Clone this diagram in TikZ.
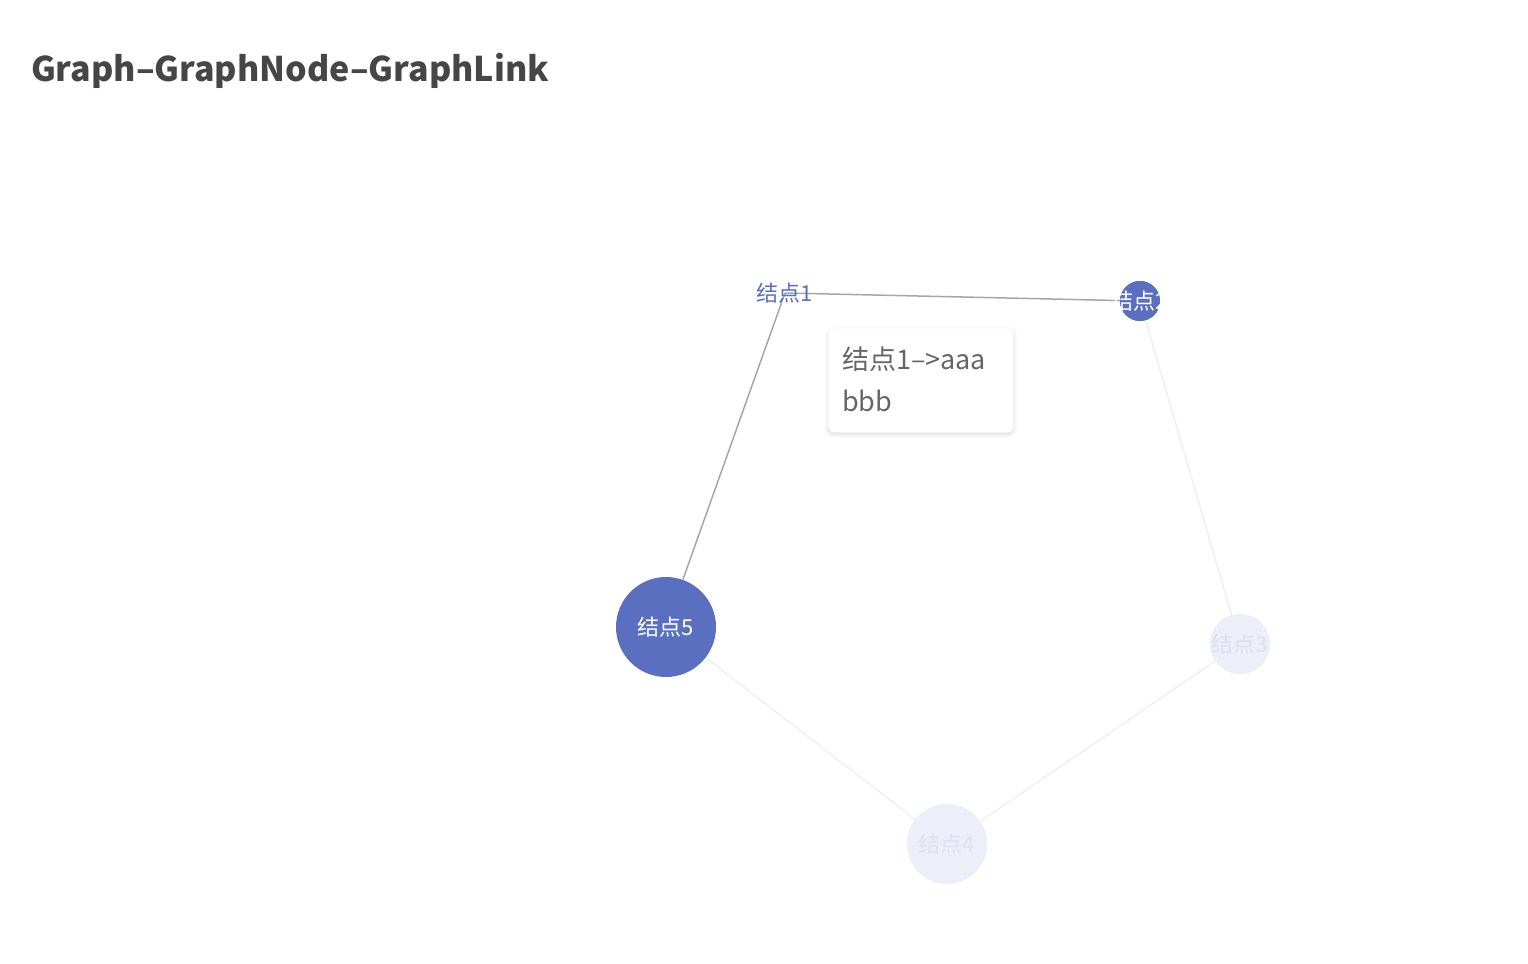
\documentclass[tikz,border=0pt]{standalone}
\usepackage{fontspec}
\setmainfont{Noto Sans CJK SC}
\usetikzlibrary{shadows.blur}
\definecolor{nblue}{HTML}{5A6FC0}
\definecolor{nfade}{HTML}{ECEEF8}
\definecolor{lfade}{HTML}{DDE0F0}
\definecolor{titlec}{HTML}{464646}
\tikzset{
  strong/.style={draw=black!35,line width=0.75pt},
  faint/.style={draw=black!6,line width=0.75pt},
  gnode/.style={circle,inner sep=0pt,minimum size=#1},
  lbl/.style={font=\fontsize{11}{12}\selectfont}
}
\begin{document}
\begin{tikzpicture}[x=0.5pt,y=-0.5pt]
\useasboundingbox (0,0) rectangle (1528,964);
\node[anchor=west,text=titlec,font=\fontsize{17}{20}\selectfont\bfseries] (title) at (24,71) {Graph–GraphNode–GraphLink};
\coordinate (n1) at (785,293);
\node[gnode=20pt,fill=nblue] (n2) at (1140,301) {};
\node[gnode=30pt,fill=nfade] (n3) at (1240,644) {};
\node[gnode=40pt,fill=nfade] (n4) at (947,844) {};
\node[gnode=50pt,fill=nblue] (n5) at (666,627) {};
\begin{scope}[on background layer/.style={}]
\draw[strong] (n1) -- (n2.center);
\draw[strong] (n1) -- (n5);
\draw[faint] (n2.center) -- (n3.center);
\draw[faint] (n3.center) -- (n4.center);
\draw[faint] (n4.center) -- (n5);
\end{scope}
\node[gnode=20pt,fill=nblue] at (n2) {};
\node[gnode=30pt,fill=nfade] at (n3) {};
\node[gnode=40pt,fill=nfade] at (n4) {};
\node[lbl,text=nblue] (l1) at (n1) {结点1};
\node[lbl,text=white] (l2) at (n2) {\textcolor{white}{结点2}};
\node[lbl,text=lfade] (l3) at (n3) {结点3};
\node[lbl,text=lfade] (l4) at (n4) {结点4};
\node[lbl,text=white] (l5) at (n5) {结点5};
\node[draw=none,fill=white,rounded corners=3pt,blur shadow={shadow blur steps=8,shadow xshift=0pt,shadow yshift=-1pt,shadow opacity=15},
  minimum width=92.5pt,minimum height=52pt,anchor=north west] (tip) at (828,328) {};
\node[anchor=west,text=black!60,font=\fontsize{13.5}{16}\selectfont] (t1) at (835,359) {结点1-->aaa};
\node[anchor=west,text=black!60,font=\fontsize{13.5}{16}\selectfont] (t2) at (835,401) {bbb};
\end{tikzpicture}
\end{document}
